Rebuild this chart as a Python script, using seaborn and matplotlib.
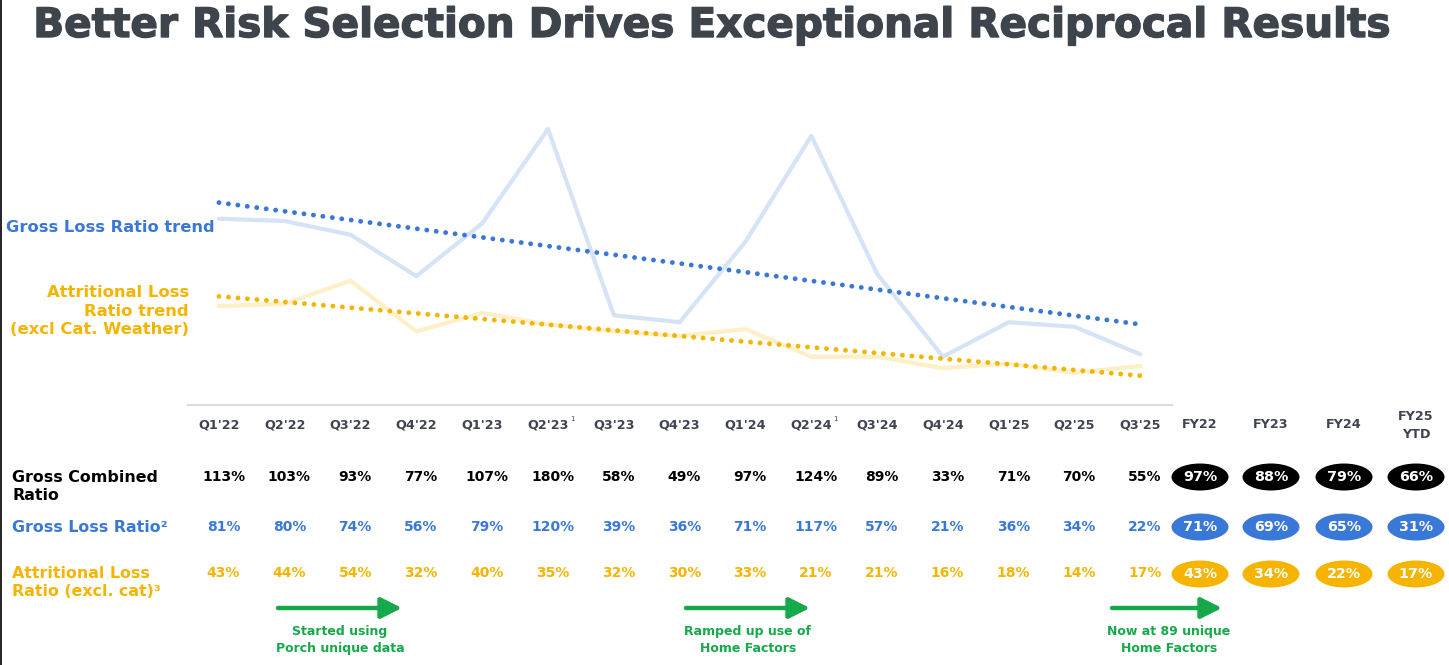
import numpy as np
import pandas as pd
import seaborn as sns
import matplotlib
matplotlib.use("Agg")
import matplotlib.pyplot as plt
import matplotlib.transforms as mtransforms
import matplotlib.patheffects as pe
from matplotlib.patches import Ellipse
from matplotlib.lines import Line2D

# ---------------- data ----------------
quarters = ["Q1'22", "Q2'22", "Q3'22", "Q4'22", "Q1'23", "Q2'23", "Q3'23", "Q4'23",
            "Q1'24", "Q2'24", "Q3'24", "Q4'24", "Q1'25", "Q2'25", "Q3'25"]
quarter_notes = ["", "", "", "", "", "1", "", "", "", "1", "", "", "", "", ""]
gross_combined = [113, 103, 93, 77, 107, 180, 58, 49, 97, 124, 89, 33, 71, 70, 55]
gross_loss = [81, 80, 74, 56, 79, 120, 39, 36, 71, 117, 57, 21, 36, 34, 22]
attritional = [43, 44, 54, 32, 40, 35, 32, 30, 33, 21, 21, 16, 18, 14, 17]

fy_labels = ["FY22", "FY23", "FY24", "FY25\nYTD"]
fy_combined = [97, 88, 79, 66]
fy_gross_loss = [71, 69, 65, 31]
fy_attritional = [43, 34, 22, 17]

notes = ["Started using\nPorch unique data",
         "Ramped up use of\nHome Factors",
         "Now at 89 unique\nHome Factors"]

# ---------------- style ----------------
sns.set_theme(style="white")
plt.rcParams["font.family"] = ["DejaVu Sans"]

BLUE = "#3a78d8"
GOLD = "#f5b400"
LIGHT_BLUE = "#d6e3f6"
LIGHT_GOLD = "#fdefc6"
TITLE = "#3d444c"
HEAD = "#3f4550"
GREEN = "#15a94a"

W, H = 1449, 665
fig = plt.figure(figsize=(W / 100, H / 100), dpi=100)
fig.patch.set_facecolor("white")


def fy(y):
    return 1 - y / H


def fx(x):
    return x / W


ax = fig.add_axes([188 / W, 260 / H, 984 / W, 287.5 / H])
df = pd.DataFrame({"idx": np.arange(len(quarters)), "glr": gross_loss, "alr": attritional})

sns.lineplot(data=df, x="idx", y="glr", color=LIGHT_BLUE, lw=3, ax=ax)
sns.lineplot(data=df, x="idx", y="alr", color=LIGHT_GOLD, lw=3, ax=ax)
dot = dict(lw=3.5, ls=(0, (0.01, 1.95)), dash_capstyle="round")
sns.regplot(data=df, x="idx", y="glr", scatter=False, ci=None, color=BLUE,
            line_kws=dot, ax=ax, truncate=True)
sns.regplot(data=df, x="idx", y="alr", scatter=False, ci=None, color=GOLD,
            line_kws=dot, ax=ax, truncate=True)

ax.set_xlim(-0.47, 14.48)
ax.set_ylim(0, 125)
ax.set_xticks([])
ax.set_yticks([])
ax.set_xlabel("")
ax.set_ylabel("")
for s in ["left", "right", "top"]:
    ax.spines[s].set_visible(False)
ax.spines["bottom"].set_color("#dcdde2")
ax.spines["bottom"].set_linewidth(1.6)
ax.patch.set_alpha(0)

trans = mtransforms.blended_transform_factory(ax.transData, fig.transFigure)

# title
fig.text(fx(711), fy(26), "Better Risk Selection Drives Exceptional Reciprocal Results",
         ha="center", va="center", fontsize=29.2, weight="bold", color=TITLE,
         path_effects=[pe.withStroke(linewidth=1.0, foreground=TITLE)])

# left trend labels
fig.text(fx(215), fy(228), "Gross Loss Ratio trend", ha="right", va="center",
         fontsize=11.7, weight="bold", color=BLUE)
fig.text(fx(189), fy(311), "Attritional Loss\nRatio trend\n(excl Cat. Weather)",
         ha="right", va="center", multialignment="right", linespacing=1.3,
         fontsize=11.8, weight="bold", color=GOLD)

# header row
for i, (q, n) in enumerate(zip(quarters, quarter_notes)):
    ax.text(i, fy(425), q, transform=trans, ha="center", va="center",
            fontsize=9.2, weight="bold", color=HEAD)
    if n:
        ax.text(i + 0.34, fy(419), n, transform=trans, ha="left", va="center",
                fontsize=5, color=HEAD)

# row labels
fig.text(fx(12), fy(487), "Gross Combined\nRatio", ha="left", va="center",
         fontsize=11.4, weight="bold", color="black", linespacing=1.25)
fig.text(fx(12), fy(527), "Gross Loss Ratio²", ha="left", va="center",
         fontsize=11.4, weight="bold", color=BLUE)
fig.text(fx(12), fy(582), "Attritional Loss\nRatio (excl. cat)³", ha="left", va="center",
         fontsize=11.4, weight="bold", color=GOLD, linespacing=1.25)

# quarter values
rows = [(477, gross_combined, "black"), (527, gross_loss, BLUE), (573, attritional, GOLD)]
for y, vals, c in rows:
    for i, v in enumerate(vals):
        ax.text(i + 0.07, fy(y), f"{v}%", transform=trans, ha="center", va="center",
                fontsize=10, weight="bold", color=c)

# FY columns with pills
fy_x = [1200, 1271, 1344, 1416]
for lab, cx in zip(fy_labels, fy_x):
    fig.text(fx(cx), fy(425), lab, ha="center", va="center", fontsize=9.2,
             weight="bold", color=HEAD, linespacing=1.5)
pill_rows = [(477, fy_combined, "black"), (527, fy_gross_loss, BLUE), (574, fy_attritional, GOLD)]
for y, vals, c in pill_rows:
    for cx, v in zip(fy_x, vals):
        e = Ellipse((cx / 100, (H - y) / 100), 0.57, 0.27, transform=fig.dpi_scale_trans,
                    facecolor=c, edgecolor="none")
        fig.add_artist(e)
        fig.text(fx(cx), fy(y), f"{v}%", ha="center", va="center", fontsize=10.3,
                 weight="bold", color="white")

# green arrows + notes
arrows = [(278, 402, 340), (686, 810, 748), (1112, 1222, 1169)]
for (x0, x1, xc), txt in zip(arrows, notes):
    ax.annotate("", xy=(x1, H - 608), xytext=(x0, H - 608),
                xycoords="figure pixels", textcoords="figure pixels",
                annotation_clip=False,
                arrowprops=dict(arrowstyle="-|>,head_length=0.9,head_width=0.45",
                                lw=3.2, color=GREEN, mutation_scale=14,
                                shrinkA=0, shrinkB=0))
    fig.text(fx(xc), fy(640), txt, ha="center", va="center", fontsize=9,
             weight="bold", color=GREEN, linespacing=1.35)

# left border
fig.add_artist(Line2D([0.0008, 0.0008], [0, 1], transform=fig.transFigure,
                      color="#222222", lw=1.4))

fig.savefig("out.png", dpi=100, facecolor="white")
